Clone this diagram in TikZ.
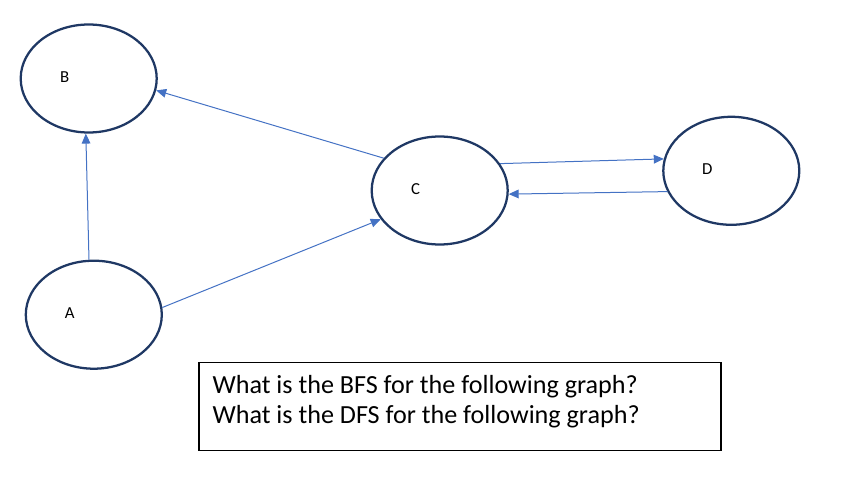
\documentclass[tikz,border=0pt]{standalone}
\usepackage{fontspec}
\setmainfont{Carlito}
\usetikzlibrary{shapes.geometric,arrows.meta}
\definecolor{vertexline}{HTML}{1F3864}
\definecolor{edgeblue}{HTML}{4472C4}
\begin{document}
\begin{tikzpicture}[x=0.75pt,y=-0.75pt,
	vertex/.style={draw=vertexline, line width=1.7pt, ellipse, inner sep=0pt, minimum width=102pt, minimum height=81pt},
	vlabel/.style={font=\fontsize{12.6}{15}\selectfont, inner sep=0pt},
	edge/.style={draw=edgeblue, line width=0.75pt, -{Triangle[length=7.5pt,width=6.5pt]}}]
	\useasboundingbox (0,0) rectangle (841,477);
	\node[vertex] (B) at (88.7,78.5) {};
	\node[vertex] (A) at (93.8,314.7) {};
	\node[vertex] (C) at (439.7,190.5) {};
	\node[vertex] (D) at (731.3,170.8) {};
	\foreach \v in {A,B,C,D} \node[vlabel] (\v lab) at ([xshift=-18pt,yshift=1.1pt]\v.center) {\v};
	\draw[edge] (A.95.8) -- (B.267.5);
	\draw[edge] (A.6.6) -- (C.206);
	\draw[edge] (C.150.3) -- (B.350.4);
	\draw[edge] (C.24.1) -- (D.170.7);
	\draw[edge] (D.198.4) -- (C.357.4);
	\draw[line width=1pt] (199,362.7) rectangle (721,450.7);
	\node[anchor=base west, inner sep=0pt, font=\fontsize{19.6}{22.5}\selectfont] (bfs) at (212.3,393.3) {What is the BFS for the following graph?};
	\node[anchor=base west, inner sep=0pt, font=\fontsize{19.6}{22.5}\selectfont] (dfs) at (212.3,423.3) {What is the DFS for the following graph?};
\end{tikzpicture}
\end{document}
